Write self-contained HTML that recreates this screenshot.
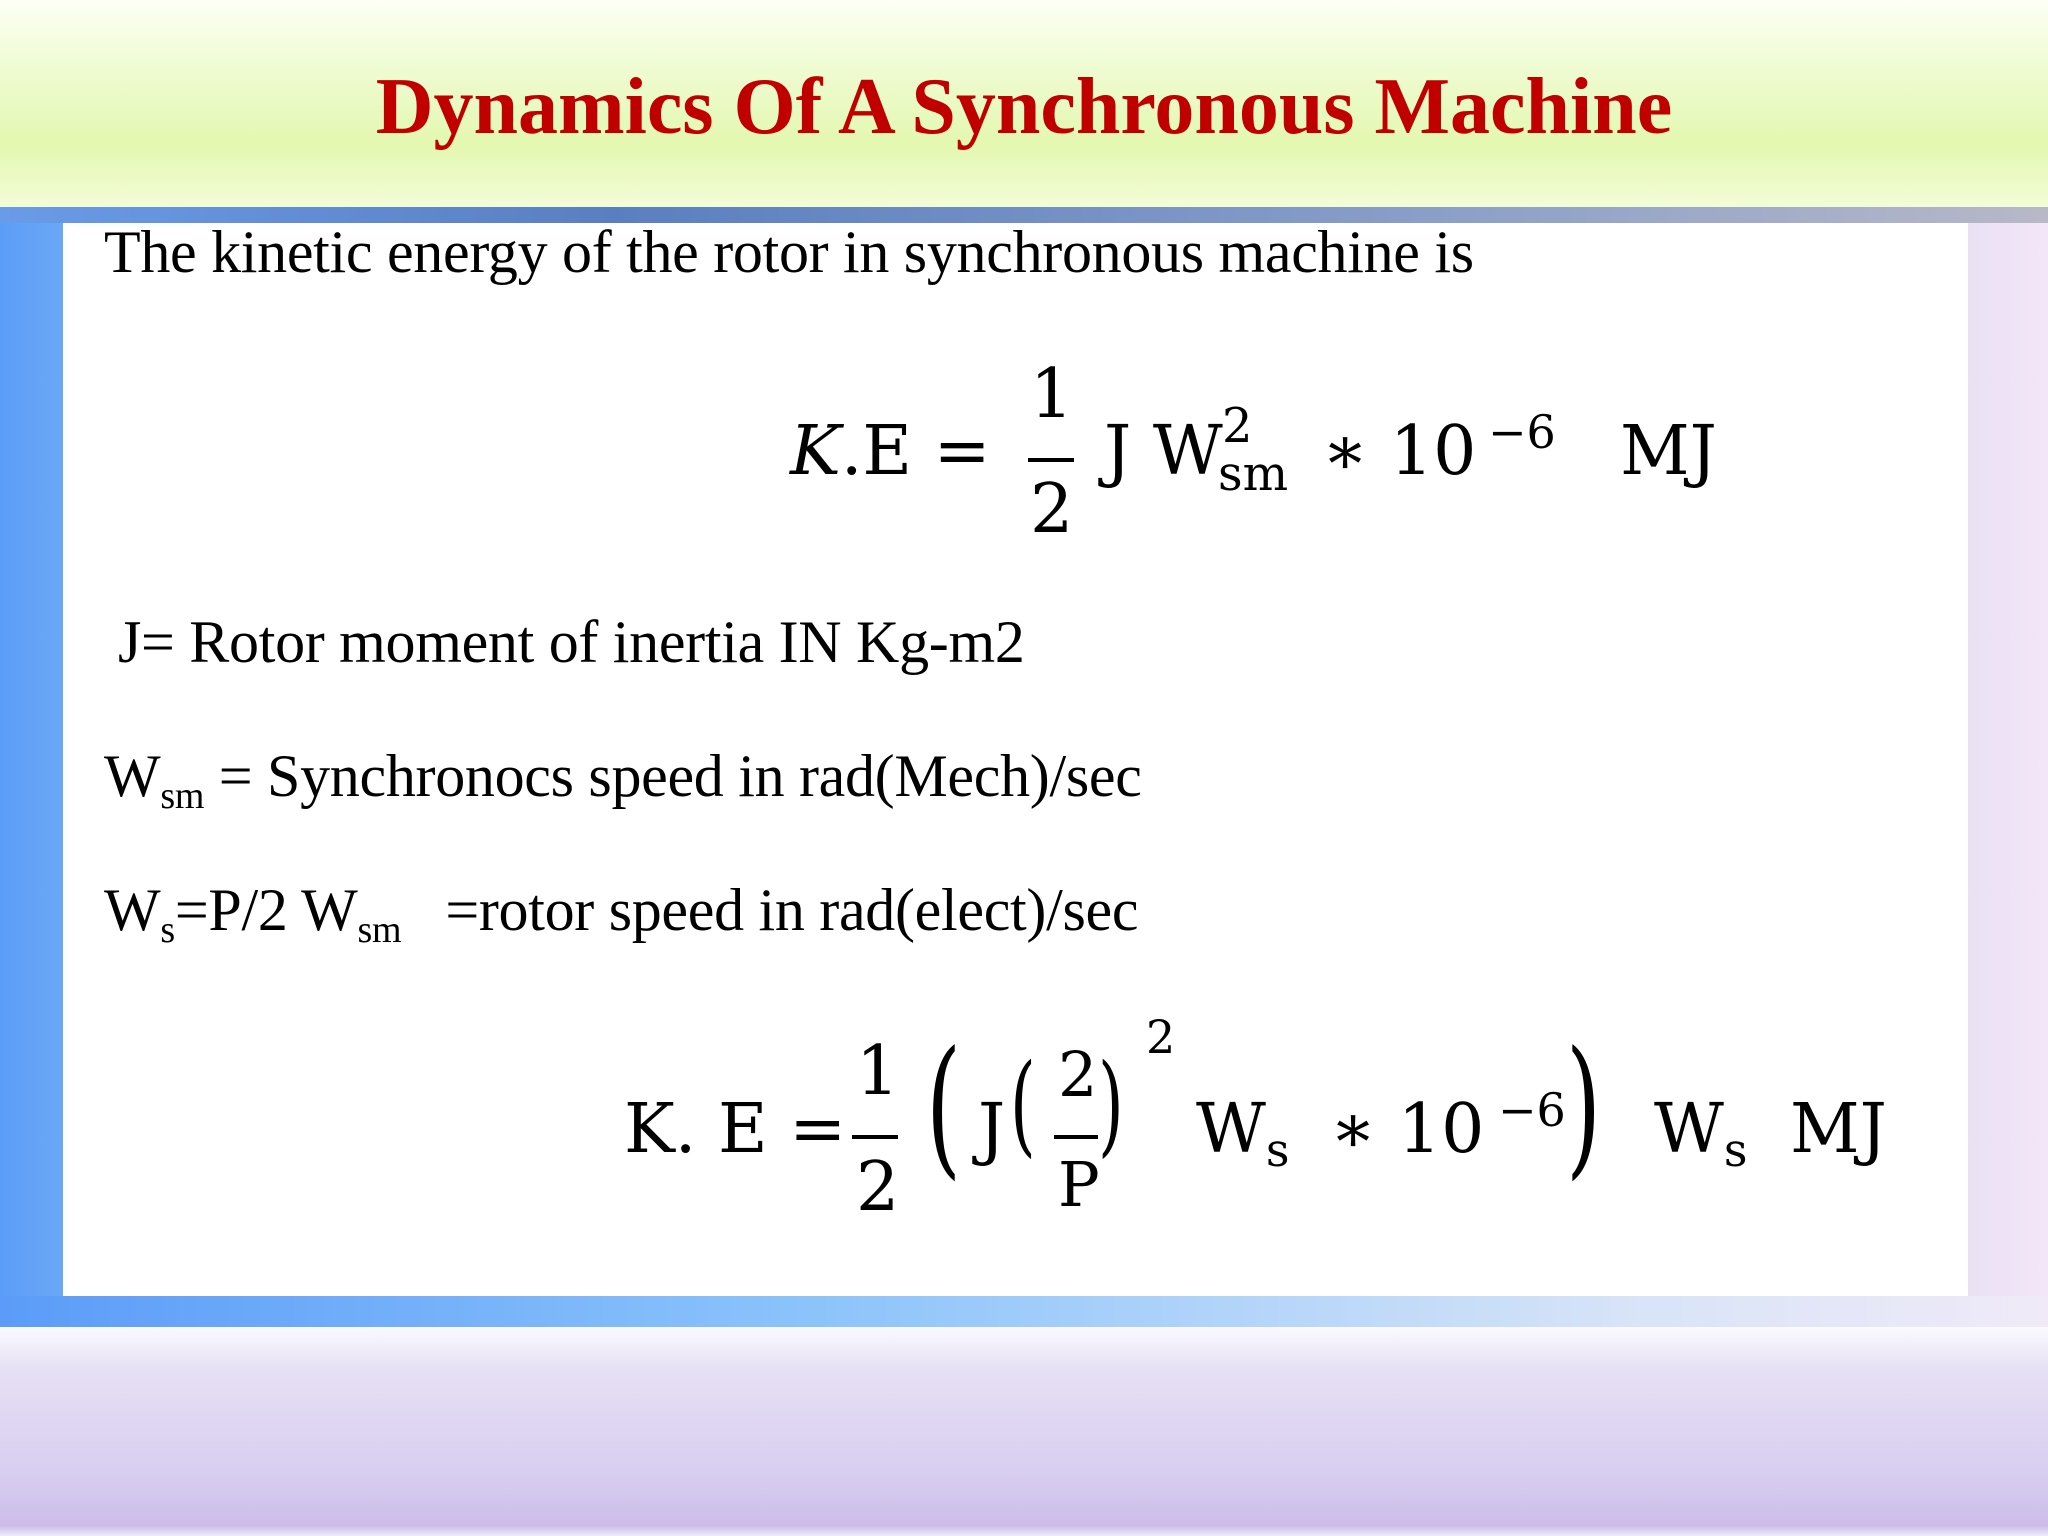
<!DOCTYPE html>
<html><head><meta charset="utf-8"><style>
html,body{margin:0;padding:0}
body{width:2048px;height:1536px;position:relative;overflow:hidden;background:#fff;font-family:"Liberation Serif",serif}
.a{position:absolute;white-space:nowrap;color:#000}
.m{font-family:"DejaVu Serif","Liberation Serif",serif}
</style></head><body>
<div style="position:absolute;left:0;top:0;width:2048px;height:207px;background:linear-gradient(#fdfff5 0%,#eefbd0 35%,#e3f8b0 70%,#f3fcd8 100%)"></div>
<div style="position:absolute;left:0;top:207px;width:2048px;height:1120px;background:linear-gradient(90deg,#5b9cf8 0%,#6aa8f6 3%,#dcd8f0 90%,#f3e6f8 100%)"></div>
<div style="position:absolute;left:0;top:207px;width:2048px;height:16px;background:linear-gradient(90deg,#6a9be8,#5a7fc0 30%,#8a9fc8 70%,#b8b8c8)"></div>
<div style="position:absolute;left:0;top:1296px;width:2048px;height:31px;background:linear-gradient(90deg,#5b9cf8,#8cc4fa 40%,#d8e4f8 80%,#f0eaf8)"></div>
<div style="position:absolute;left:0;top:1327px;width:2048px;height:209px;background:linear-gradient(#fafaff 0%,#e6e0f4 20%,#d8cef0 70%,#cbbde8 95%,#efeafa 100%)"></div>
<div style="position:absolute;left:63px;top:223px;width:1905px;height:1073px;background:#fff"></div>
<div class="a" style="left:0;width:2048px;top:62px;text-align:center;font-size:80px;font-weight:bold;color:#c00000">Dynamics Of A Synchronous Machine</div>
<div class="a" style="left:104px;top:218px;font-size:60px;letter-spacing:-0.3px">The kinetic energy of the rotor in synchronous machine is</div>

<!-- Eq 1 -->
<div class="a m" style="left:790px;top:412px;font-size:68px"><i>K</i>.E =</div>
<div class="a m" style="left:1030px;top:355px;font-size:68px">1</div>
<div style="position:absolute;left:1028px;top:458px;width:46px;height:4px;background:#000"></div>
<div class="a m" style="left:1030px;top:470px;font-size:68px">2</div>
<div class="a m" style="left:1104px;top:412px;font-size:68px">J W</div>
<div class="a m" style="left:1222px;top:398px;font-size:48px">2</div>
<div class="a m" style="left:1218px;top:446px;font-size:48px">sm</div>
<div class="a m" style="left:1322px;top:412px;font-size:68px">∗ 10</div>
<div class="a m" style="left:1488px;top:405px;font-size:46px">−6</div>
<div class="a m" style="left:1620px;top:412px;font-size:68px">MJ</div>

<div class="a" style="left:118px;top:608px;font-size:60px;letter-spacing:-0.3px">J= Rotor moment of inertia IN Kg-m2</div>
<div class="a" style="left:104px;top:742px;font-size:60px;letter-spacing:-0.3px">W<span style="font-size:38px;position:relative;top:12px">sm</span> = Synchronocs speed in rad(Mech)/sec</div>
<div class="a" style="left:104px;top:876px;font-size:60px;letter-spacing:-0.3px">W<span style="font-size:38px;position:relative;top:12px">s</span>=P/2 W<span style="font-size:38px;position:relative;top:12px">sm</span> &nbsp;&nbsp;=rotor speed in rad(elect)/sec</div>

<!-- Eq 2 -->
<div class="a m" style="left:624px;top:1090px;font-size:68px">K. E =</div>
<div class="a m" style="left:856px;top:1032px;font-size:68px">1</div>
<div style="position:absolute;left:852px;top:1135px;width:46px;height:4px;background:#000"></div>
<div class="a m" style="left:856px;top:1148px;font-size:68px">2</div>
<div class="a m" style="left:926px;top:1020px;font-size:150px;font-weight:100;transform:scaleX(0.6);transform-origin:left">(</div>
<div class="a m" style="left:978px;top:1090px;font-size:68px">J</div>
<div class="a m" style="left:1010px;top:1040px;font-size:110px;transform:scaleX(0.6);transform-origin:left">(</div>
<div class="a m" style="left:1058px;top:1038px;font-size:62px">2</div>
<div style="position:absolute;left:1054px;top:1135px;width:44px;height:4px;background:#000"></div>
<div class="a m" style="left:1058px;top:1148px;font-size:62px">P</div>
<div class="a m" style="left:1098px;top:1040px;font-size:110px;transform:scaleX(0.6);transform-origin:left">)</div>
<div class="a m" style="left:1146px;top:1010px;font-size:46px">2</div>
<div class="a m" style="left:1196px;top:1090px;font-size:68px">W<span style="font-size:46px;position:relative;top:14px">s</span></div>
<div class="a m" style="left:1330px;top:1090px;font-size:68px">∗ 10</div>
<div class="a m" style="left:1498px;top:1083px;font-size:46px">−6</div>
<div class="a m" style="left:1566px;top:1020px;font-size:150px;transform:scaleX(0.6);transform-origin:left">)</div>
<div class="a m" style="left:1654px;top:1090px;font-size:68px">W<span style="font-size:46px;position:relative;top:14px">s</span></div>
<div class="a m" style="left:1790px;top:1090px;font-size:68px">MJ</div>
</body></html>
